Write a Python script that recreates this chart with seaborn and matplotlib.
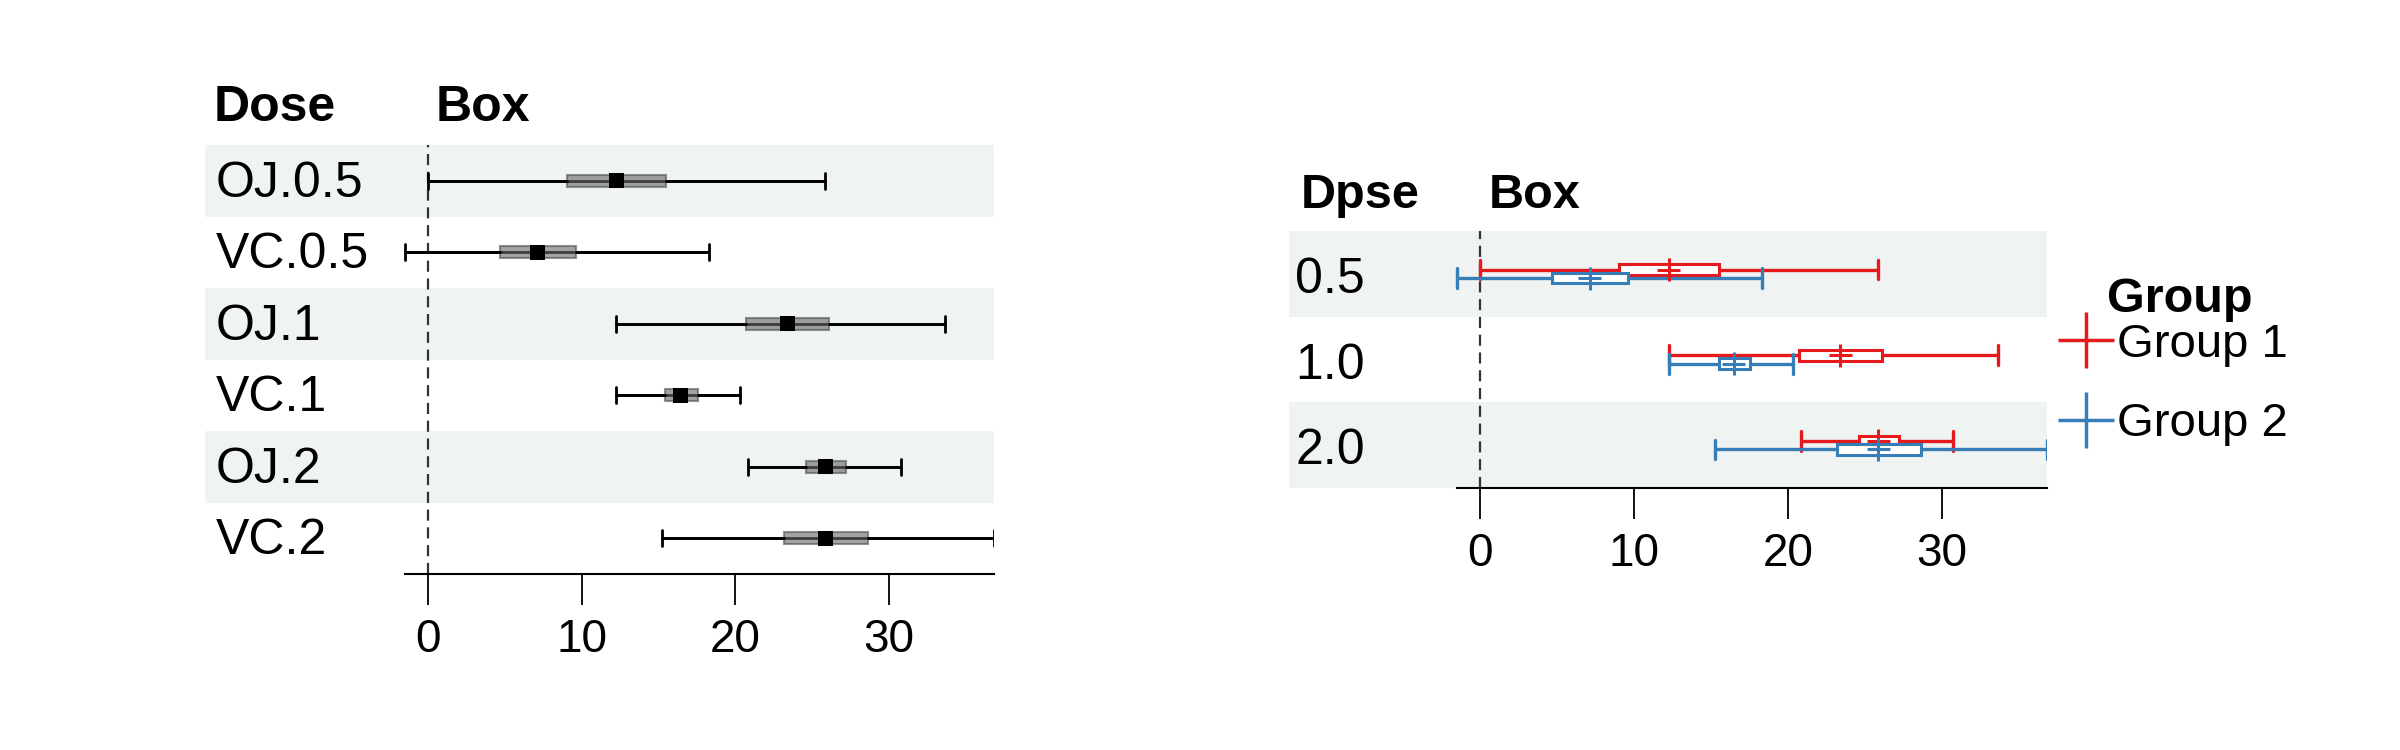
import matplotlib
matplotlib.use("Agg")
import matplotlib.pyplot as plt
from matplotlib.lines import Line2D
import seaborn as sns
import pandas as pd

# left table: one row per supplement/dose
doses = ['OJ.0.5', 'VC.0.5', 'OJ.1', 'VC.1', 'OJ.2', 'VC.2']
lower = [0.0, -1.50, 12.26, 12.26, 20.84, 15.22]
q1 = [9.02, 4.70, 20.70, 15.42, 24.60, 23.19]
median = [12.26, 7.15, 23.39, 16.45, 25.88, 25.88]
q3 = [15.49, 9.64, 26.12, 17.54, 27.20, 28.63]
upper = [25.84, 18.32, 33.64, 20.33, 30.78, 36.84]

# right table: grouped by dose
dose_levels = ['0.5', '1.0', '2.0']
groups = ['Group 1', 'Group 2']
g1_lower = [0.0, 12.26, 20.84]
g1_q1 = [9.02, 20.75, 24.65]
g1_median = [12.26, 23.42, 25.88]
g1_q3 = [15.50, 26.12, 27.20]
g1_upper = [25.85, 33.66, 30.76]
g2_lower = [-1.50, 12.26, 15.25]
g2_q1 = [4.68, 15.50, 23.20]
g2_median = [7.13, 16.48, 25.88]
g2_q3 = [9.62, 17.52, 28.62]
g2_upper = [18.33, 20.34, 36.84]

tick_vals = [0, 10, 20, 30]

BAND = '#eff3f2'
RED = '#e41a1c'
BLUE = '#377eb8'
W, H = 2400, 750

sns.set_theme(style='white')
plt.rcParams['font.family'] = ['Liberation Sans', 'DejaVu Sans']
plt.rcParams['text.color'] = 'black'
plt.rcParams['xtick.color'] = 'black'

fig = plt.figure(figsize=(W / 100, H / 100), dpi=100)


def px_axes(x0, y0, x1, y1):
    return fig.add_axes([x0 / W, 1 - y1 / H, (x1 - x0) / W, (y1 - y0) / H])


def px_text(x, y, s, ha='left', **kw):
    fig.text(x / W, 1 - y / H, s, va='center', ha=ha, **kw)


xmin = min(lower)
xmax = max(upper)


def style_axis(ax, left_px, x0, x1, nrows):
    ppu = (x1 - left_px) / (xmax - xmin)
    ax.set_xlim(xmin - (left_px - x0) / ppu, xmax)
    ax.set_ylim(nrows - 0.5, -0.5)
    for i in range(0, nrows, 2):
        ax.axhspan(i - 0.5, i + 0.5, color=BAND, lw=0, zorder=0)
    ax.axvline(0, color='#333333', lw=1.6, ls=(0, (5, 3)), zorder=1)
    for s in ['top', 'left', 'right']:
        ax.spines[s].set_visible(False)
    ax.spines['bottom'].set_bounds(xmin, xmax)
    ax.spines['bottom'].set_linewidth(1.5)
    ax.spines['bottom'].set_color('black')
    ax.set_xticks(tick_vals)
    ax.set_xticklabels([str(t) for t in tick_vals])
    ax.set_yticks([])
    ax.tick_params(axis='x', direction='out', length=22, width=1.3,
                   pad=10, labelsize=33, colors='black', bottom=True)
    ax.set_xlabel('')
    ax.set_ylabel('')
    ax.set_facecolor('none')


# ---------- left panel ----------
axL = px_axes(205, 145, 994, 574)
rows = list(range(len(doses)))
axL.hlines(rows, lower, upper, color='black', lw=2, zorder=2)
statsL = [dict(whislo=a, q1=b, med=c, q3=d, whishi=e)
          for a, b, c, d, e in zip(lower, q1, median, q3, upper)]
axL.bxp(statsL, positions=rows, orientation='horizontal', widths=0.17,
        capwidths=0.22, showfliers=False, patch_artist=True, manage_ticks=False,
        boxprops=dict(facecolor=(0.4, 0.4, 0.4, 0.6), edgecolor=(0.3, 0.3, 0.3, 0.6), lw=1.5),
        whiskerprops=dict(color='black', lw=2), capprops=dict(color='black', lw=2),
        medianprops=dict(lw=0), zorder=3)
sns.scatterplot(x=median, y=rows, marker='s', s=120, color='black',
                edgecolor='none', legend=False, ax=axL, zorder=4)
style_axis(axL, 405, 205, 994, len(doses))

px_text(214, 108, 'Dose', fontsize=36, fontweight='bold')
px_text(436, 108, 'Box', fontsize=36, fontweight='bold')
for i, d in enumerate(doses):
    px_text(216, 148 + (i + 0.5) * (574 - 145) / len(doses), d, fontsize=36)

# ---------- right panel ----------
axR = px_axes(1289, 231, 2047, 488)
off = 0.05
df = pd.DataFrame({
    'group': [groups[0]] * 3 + [groups[1]] * 3,
    'row': [i - off for i in range(3)] + [i + off for i in range(3)],
    'median': g1_median + g2_median,
})
for lo, a, m, b, hi, sign, col in [
        (g1_lower, g1_q1, g1_median, g1_q3, g1_upper, -1, RED),
        (g2_lower, g2_q1, g2_median, g2_q3, g2_upper, 1, BLUE)]:
    pos = [i + sign * off for i in range(3)]
    st = [dict(whislo=w1, q1=w2, med=w3, q3=w4, whishi=w5)
          for w1, w2, w3, w4, w5 in zip(lo, a, m, b, hi)]
    axR.bxp(st, positions=pos, orientation='horizontal', widths=0.125,
            capwidths=0.23, showfliers=False, patch_artist=True, manage_ticks=False,
            boxprops=dict(facecolor='white', edgecolor=col, lw=2.2),
            whiskerprops=dict(color=col, lw=2.4), capprops=dict(color=col, lw=2.4),
            medianprops=dict(lw=0), zorder=3)
sns.scatterplot(data=df, x='median', y='row', hue='group', palette=[RED, BLUE],
                marker='+', s=270, linewidth=2.2, legend=False, ax=axR, zorder=4)
style_axis(axR, 1457, 1289, 2047, len(dose_levels))

px_text(1301, 195, 'Dpse', fontsize=35, fontweight='bold')
px_text(1489, 195, 'Box', fontsize=35, fontweight='bold')
for i, d in enumerate(dose_levels):
    px_text(1295, 237 + (i + 0.5) * (488 - 231) / 3, d, fontsize=36)

# legend: title drawn separately so it sits close to the entries
px_text(2180, 300, 'Group', ha='center', fontsize=35, fontweight='bold')
handles = [Line2D([], [], ls='none', marker='+', markersize=40, mew=2.5, color=c)
           for c in [RED, BLUE]]
fig.legend(handles, groups, loc='upper left',
           bbox_to_anchor=(2058 / W, 1 - 323 / H), frameon=False, fontsize=34,
           handlelength=1.2, handletextpad=0.05, labelspacing=0.75,
           borderpad=0, borderaxespad=0)

fig.savefig('out.png', dpi=100)
